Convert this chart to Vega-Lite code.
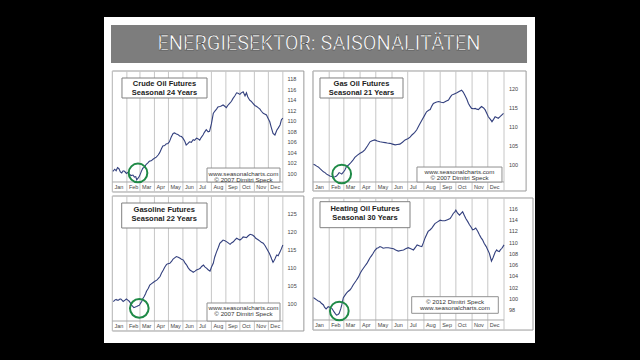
{
"$schema": "https://vega.github.io/schema/vega-lite/v6.json",
"background": "black",
"padding": {"left": 104, "top": 17, "right": 105, "bottom": 17},
"datasets": {
"months": [{"m":"Jan","d":0},{"m":"Feb","d":31},{"m":"Mar","d":59},{"m":"Apr","d":90},{"m":"May","d":120},{"m":"Jun","d":151},{"m":"Jul","d":181},{"m":"Aug","d":212},{"m":"Sep","d":243},{"m":"Oct","d":273},{"m":"Nov","d":304},{"m":"Dec","d":334},{"m":"","d":365}],
"ticks": [{"p":"crude","v":100},{"p":"crude","v":102},{"p":"crude","v":104},{"p":"crude","v":106},{"p":"crude","v":108},{"p":"crude","v":110},{"p":"crude","v":112},{"p":"crude","v":114},{"p":"crude","v":116},{"p":"crude","v":118},
{"p":"gasoil","v":100},{"p":"gasoil","v":105},{"p":"gasoil","v":110},{"p":"gasoil","v":115},{"p":"gasoil","v":120},
{"p":"gasoline","v":100},{"p":"gasoline","v":105},{"p":"gasoline","v":110},{"p":"gasoline","v":115},{"p":"gasoline","v":120},{"p":"gasoline","v":125},
{"p":"heating","v":98},{"p":"heating","v":100},{"p":"heating","v":102},{"p":"heating","v":104},{"p":"heating","v":106},{"p":"heating","v":108},{"p":"heating","v":110},{"p":"heating","v":112},{"p":"heating","v":114},{"p":"heating","v":116}],
"crude": [{"d":1,"v":100.5},{"d":5,"v":100.9},{"d":8,"v":100.6},{"d":11,"v":101.2},{"d":14,"v":101.0},{"d":17,"v":100.4},{"d":20,"v":100.2},{"d":23,"v":100.6},{"d":26,"v":100.5},{"d":30,"v":100.1},{"d":33,"v":100.3},{"d":37,"v":99.9},{"d":40,"v":99.7},{"d":44,"v":99.8},{"d":47,"v":99.4},{"d":50,"v":99.5},{"d":52,"v":98.9},{"d":55,"v":99.2},{"d":58,"v":99.6},{"d":62,"v":100.5},{"d":65,"v":101.1},{"d":69,"v":101.3},{"d":72,"v":101.8},{"d":76,"v":102.1},{"d":79,"v":102.4},{"d":83,"v":102.5},{"d":87,"v":102.8},{"d":90,"v":103.0},{"d":94,"v":103.2},{"d":98,"v":103.6},{"d":101,"v":104.0},{"d":105,"v":104.8},{"d":108,"v":105.3},{"d":112,"v":105.4},{"d":115,"v":105.7},{"d":119,"v":105.8},{"d":122,"v":106.1},{"d":126,"v":107.0},{"d":130,"v":107.7},{"d":133,"v":107.8},{"d":137,"v":107.6},{"d":140,"v":107.5},{"d":144,"v":107.2},{"d":148,"v":107.1},{"d":151,"v":106.8},{"d":155,"v":106.2},{"d":158,"v":105.5},{"d":162,"v":105.8},{"d":165,"v":106.1},{"d":169,"v":106.0},{"d":173,"v":106.5},{"d":176,"v":106.4},{"d":180,"v":106.8},{"d":183,"v":106.7},{"d":187,"v":106.4},{"d":190,"v":106.9},{"d":194,"v":107.4},{"d":197,"v":107.9},{"d":201,"v":108.4},{"d":205,"v":108.0},{"d":208,"v":108.1},{"d":212,"v":109.5},{"d":216,"v":111.5},{"d":219,"v":111.9},{"d":223,"v":112.3},{"d":226,"v":112.7},{"d":230,"v":112.8},{"d":233,"v":112.9},{"d":237,"v":113.1},{"d":240,"v":112.9},{"d":244,"v":112.6},{"d":247,"v":113.0},{"d":251,"v":113.4},{"d":255,"v":113.8},{"d":258,"v":114.3},{"d":262,"v":114.8},{"d":266,"v":115.4},{"d":269,"v":115.3},{"d":273,"v":115.1},{"d":276,"v":115.4},{"d":280,"v":115.6},{"d":284,"v":114.8},{"d":287,"v":115.4},{"d":290,"v":114.6},{"d":294,"v":114.0},{"d":297,"v":113.8},{"d":301,"v":113.4},{"d":305,"v":113.0},{"d":309,"v":112.8},{"d":312,"v":112.6},{"d":316,"v":112.3},{"d":319,"v":111.9},{"d":323,"v":111.5},{"d":326,"v":111.4},{"d":330,"v":111.2},{"d":333,"v":110.6},{"d":337,"v":109.9},{"d":340,"v":108.9},{"d":344,"v":107.7},{"d":348,"v":107.4},{"d":352,"v":108.3},{"d":355,"v":108.7},{"d":359,"v":109.3},{"d":362,"v":110.3},{"d":365,"v":110.6}],
"gasoil": [{"d":1,"v":100.2},{"d":4,"v":100.0},{"d":7,"v":99.7},{"d":10,"v":99.5},{"d":13,"v":99.1},{"d":17,"v":98.6},{"d":20,"v":98.2},{"d":23,"v":98.0},{"d":26,"v":97.6},{"d":29,"v":97.4},{"d":32,"v":97.1},{"d":36,"v":97.0},{"d":39,"v":96.8},{"d":42,"v":96.9},{"d":45,"v":97.1},{"d":48,"v":97.6},{"d":50,"v":98.0},{"d":53,"v":97.8},{"d":55,"v":97.6},{"d":58,"v":98.1},{"d":61,"v":98.7},{"d":64,"v":99.6},{"d":68,"v":100.0},{"d":71,"v":100.4},{"d":76,"v":101.2},{"d":80,"v":102.0},{"d":85,"v":102.6},{"d":90,"v":103.1},{"d":95,"v":103.5},{"d":99,"v":104.0},{"d":104,"v":105.0},{"d":109,"v":106.1},{"d":113,"v":106.4},{"d":118,"v":106.6},{"d":123,"v":106.3},{"d":128,"v":106.1},{"d":133,"v":106.0},{"d":138,"v":105.9},{"d":142,"v":105.8},{"d":147,"v":105.7},{"d":152,"v":105.5},{"d":157,"v":105.3},{"d":161,"v":105.4},{"d":166,"v":105.5},{"d":171,"v":106.0},{"d":176,"v":106.6},{"d":179,"v":106.8},{"d":182,"v":107.0},{"d":186,"v":107.4},{"d":189,"v":107.9},{"d":194,"v":108.5},{"d":198,"v":109.2},{"d":203,"v":110.5},{"d":208,"v":111.8},{"d":213,"v":113.0},{"d":217,"v":114.0},{"d":221,"v":114.4},{"d":224,"v":114.6},{"d":227,"v":115.5},{"d":230,"v":116.2},{"d":235,"v":116.5},{"d":240,"v":116.7},{"d":245,"v":116.5},{"d":249,"v":116.4},{"d":254,"v":116.8},{"d":259,"v":117.1},{"d":262,"v":117.8},{"d":265,"v":118.4},{"d":270,"v":118.7},{"d":275,"v":119.0},{"d":280,"v":119.4},{"d":284,"v":119.7},{"d":287,"v":119.2},{"d":290,"v":118.4},{"d":294,"v":117.3},{"d":297,"v":116.2},{"d":300,"v":115.5},{"d":303,"v":114.9},{"d":307,"v":114.8},{"d":310,"v":114.9},{"d":313,"v":114.7},{"d":316,"v":114.6},{"d":319,"v":115.0},{"d":322,"v":115.4},{"d":326,"v":115.0},{"d":329,"v":114.5},{"d":332,"v":113.6},{"d":335,"v":112.7},{"d":339,"v":112.0},{"d":342,"v":111.4},{"d":345,"v":112.0},{"d":348,"v":112.7},{"d":351,"v":112.5},{"d":354,"v":112.3},{"d":358,"v":112.8},{"d":361,"v":113.2},{"d":364,"v":113.6}],
"gasoline": [{"d":2,"v":100.6},{"d":5,"v":101.0},{"d":8,"v":101.2},{"d":10,"v":101.0},{"d":13,"v":101.0},{"d":16,"v":101.3},{"d":18,"v":101.3},{"d":21,"v":100.9},{"d":23,"v":100.6},{"d":27,"v":101.0},{"d":30,"v":101.3},{"d":33,"v":101.0},{"d":36,"v":100.7},{"d":39,"v":100.1},{"d":41,"v":99.6},{"d":44,"v":99.2},{"d":46,"v":98.9},{"d":49,"v":99.1},{"d":52,"v":99.2},{"d":55,"v":99.4},{"d":58,"v":99.6},{"d":60,"v":100.1},{"d":63,"v":100.7},{"d":65,"v":101.4},{"d":68,"v":102.0},{"d":71,"v":102.8},{"d":73,"v":103.5},{"d":77,"v":104.3},{"d":80,"v":105.2},{"d":84,"v":105.6},{"d":88,"v":106.0},{"d":91,"v":106.3},{"d":95,"v":106.6},{"d":98,"v":107.0},{"d":102,"v":107.6},{"d":105,"v":108.5},{"d":109,"v":109.4},{"d":112,"v":110.2},{"d":116,"v":111.0},{"d":119,"v":111.2},{"d":123,"v":111.3},{"d":127,"v":111.9},{"d":130,"v":112.5},{"d":134,"v":112.9},{"d":137,"v":113.2},{"d":141,"v":113.0},{"d":145,"v":112.7},{"d":148,"v":112.4},{"d":152,"v":112.2},{"d":155,"v":111.5},{"d":159,"v":110.8},{"d":162,"v":110.1},{"d":166,"v":109.4},{"d":170,"v":109.1},{"d":173,"v":108.8},{"d":177,"v":109.1},{"d":180,"v":109.4},{"d":184,"v":109.6},{"d":188,"v":109.9},{"d":191,"v":110.4},{"d":195,"v":110.8},{"d":198,"v":110.3},{"d":202,"v":109.9},{"d":205,"v":109.5},{"d":209,"v":109.1},{"d":212,"v":110.2},{"d":216,"v":111.3},{"d":219,"v":113.0},{"d":223,"v":114.5},{"d":227,"v":115.8},{"d":230,"v":116.9},{"d":234,"v":117.4},{"d":237,"v":117.8},{"d":241,"v":117.6},{"d":245,"v":117.3},{"d":248,"v":117.0},{"d":252,"v":116.6},{"d":255,"v":117.0},{"d":259,"v":117.3},{"d":262,"v":117.8},{"d":266,"v":118.3},{"d":270,"v":118.0},{"d":273,"v":117.8},{"d":277,"v":118.2},{"d":280,"v":118.7},{"d":284,"v":118.6},{"d":287,"v":118.5},{"d":291,"v":119.0},{"d":295,"v":119.4},{"d":298,"v":119.3},{"d":300,"v":119.2},{"d":304,"v":118.8},{"d":307,"v":118.3},{"d":312,"v":117.9},{"d":316,"v":117.5},{"d":319,"v":117.2},{"d":323,"v":116.9},{"d":327,"v":116.2},{"d":330,"v":115.5},{"d":333,"v":114.8},{"d":336,"v":114.1},{"d":339,"v":113.2},{"d":341,"v":112.5},{"d":344,"v":111.6},{"d":346,"v":112.0},{"d":348,"v":112.5},{"d":350,"v":113.1},{"d":352,"v":113.6},{"d":355,"v":113.4},{"d":357,"v":114.0},{"d":359,"v":114.5},{"d":362,"v":115.4},{"d":365,"v":116.4}],
"heating": [{"d":1,"v":100.2},{"d":4,"v":100.0},{"d":7,"v":99.8},{"d":10,"v":99.6},{"d":13,"v":99.5},{"d":16,"v":99.2},{"d":20,"v":98.9},{"d":22,"v":98.5},{"d":25,"v":98.2},{"d":27,"v":98.4},{"d":29,"v":98.6},{"d":32,"v":98.5},{"d":36,"v":98.3},{"d":38,"v":98.0},{"d":40,"v":97.7},{"d":43,"v":97.3},{"d":45,"v":97.1},{"d":48,"v":97.2},{"d":50,"v":97.4},{"d":53,"v":98.2},{"d":55,"v":98.9},{"d":58,"v":100.2},{"d":61,"v":100.6},{"d":64,"v":101.0},{"d":67,"v":101.3},{"d":71,"v":101.6},{"d":74,"v":102.0},{"d":77,"v":102.5},{"d":80,"v":102.9},{"d":83,"v":103.3},{"d":87,"v":103.9},{"d":90,"v":104.5},{"d":93,"v":105.0},{"d":96,"v":105.4},{"d":99,"v":105.8},{"d":103,"v":106.3},{"d":106,"v":106.8},{"d":109,"v":107.3},{"d":112,"v":107.7},{"d":115,"v":108.1},{"d":118,"v":108.6},{"d":122,"v":109.0},{"d":125,"v":109.1},{"d":128,"v":109.3},{"d":131,"v":109.2},{"d":134,"v":109.0},{"d":139,"v":109.1},{"d":144,"v":109.1},{"d":149,"v":109.0},{"d":154,"v":108.9},{"d":158,"v":108.7},{"d":163,"v":108.5},{"d":168,"v":108.6},{"d":173,"v":108.7},{"d":177,"v":108.9},{"d":182,"v":109.1},{"d":187,"v":108.9},{"d":192,"v":108.7},{"d":196,"v":109.2},{"d":199,"v":109.6},{"d":204,"v":109.4},{"d":208,"v":109.3},{"d":211,"v":110.0},{"d":214,"v":110.8},{"d":217,"v":111.4},{"d":220,"v":112.0},{"d":224,"v":112.3},{"d":227,"v":112.6},{"d":230,"v":113.0},{"d":233,"v":113.4},{"d":238,"v":113.7},{"d":243,"v":114.0},{"d":247,"v":113.9},{"d":252,"v":113.9},{"d":257,"v":114.1},{"d":262,"v":114.3},{"d":265,"v":114.7},{"d":268,"v":115.2},{"d":271,"v":115.5},{"d":273,"v":115.8},{"d":276,"v":115.3},{"d":280,"v":114.9},{"d":283,"v":115.2},{"d":286,"v":115.5},{"d":289,"v":114.9},{"d":292,"v":114.3},{"d":296,"v":113.7},{"d":299,"v":113.2},{"d":302,"v":112.8},{"d":305,"v":112.3},{"d":308,"v":112.4},{"d":311,"v":112.6},{"d":315,"v":112.0},{"d":318,"v":111.4},{"d":321,"v":110.9},{"d":324,"v":110.5},{"d":327,"v":109.9},{"d":331,"v":109.3},{"d":334,"v":108.7},{"d":337,"v":108.1},{"d":339,"v":107.4},{"d":341,"v":106.7},{"d":344,"v":107.3},{"d":346,"v":107.8},{"d":348,"v":108.3},{"d":351,"v":108.7},{"d":353,"v":108.5},{"d":356,"v":108.4},{"d":358,"v":108.7},{"d":361,"v":109.0},{"d":363,"v":109.3},{"d":365,"v":109.6}]
},
"spacing": 0,
"vconcat": [
{
"width": 431, "height": 50,
"data": {"values": [{"t": "ENERGIESEKTOR: SAISONALITÄTEN"}]},
"encoding": {
"x": {"field": "t", "type": "nominal", "scale": {"paddingInner": 0, "paddingOuter": 0.018, "align": 0.467}},
"y": {"field": "t", "type": "nominal", "scale": {"paddingInner": 0, "paddingOuter": 0.158, "align": 0.667}}
},
"layer": [
{"mark": {"type": "rect", "fill": "#7d7d7d"}},
{"mark": {"type": "text", "fontSize": 20, "font": "Roboto", "fill": "white", "stroke": "#3a3a3a", "strokeWidth": 0.4, "baseline": "middle"}, "encoding": {"text": {"field": "t"}}}
]
},
{
"hconcat": [
{
"width": 205, "height": 127,
"layer": [
{"data": {"values": [{}]}, "mark": {"type": "rect", "fill": "white", "stroke": "#9a9a9a", "strokeWidth": 1},
"encoding": {"x": {"datum": 0, "type": "quantitative", "scale": {"domain": [-18, 421], "nice": false, "zero": false}}, "x2": {"datum": 410}, "y": {"datum": 119.54, "type": "quantitative", "scale": {"domain": [96.2, 120.3], "nice": false, "zero": false}}, "y2": {"datum": 96.58}}},
{"data": {"name": "months"}, "mark": {"type": "rule", "stroke": "#c6c6c6", "strokeWidth": 1}, "encoding": {"x": {"field": "d", "type": "quantitative"}, "y": {"datum": 119.54}, "y2": {"datum": 96.58}}},
{"data": {"values": [{}]}, "mark": {"type": "rule", "stroke": "#a8a8a8"}, "encoding": {"x": {"datum": 0}, "x2": {"datum": 365}, "y": {"datum": 98.48}}},
{"data": {"name": "months"}, "mark": {"type": "text", "align": "left", "baseline": "middle", "dx": 2, "fontSize": 5.5, "fill": "#444"}, "encoding": {"x": {"field": "d", "type": "quantitative"}, "y": {"datum": 97.53}, "text": {"field": "m"}}},
{"data": {"name": "ticks"}, "transform": [{"filter": "datum.p == 'crude'"}], "mark": {"type": "text", "align": "left", "baseline": "middle", "fontSize": 5.5, "fill": "#444"}, "encoding": {"x": {"datum": 375}, "y": {"field": "v", "type": "quantitative"}, "text": {"field": "v", "type": "quantitative", "format": "d"}}},
{"data": {"name": "crude"}, "mark": {"type": "line", "stroke": "#33407e", "strokeWidth": 1.1}, "encoding": {"x": {"field": "d", "type": "quantitative"}, "y": {"field": "v", "type": "quantitative"}}},
{"data": {"values": [{}]}, "mark": {"type": "rect", "fill": "white", "stroke": "#808080", "strokeWidth": 1}, "encoding": {"x": {"datum": 20.5}, "x2": {"datum": 202.6}, "y": {"datum": 118.21}, "y2": {"datum": 114.42}}},
{"data": {"values": [{}]}, "mark": {"type": "text", "fontSize": 7.5, "fontWeight": "bold", "lineHeight": 9, "baseline": "middle", "fill": "#222"}, "encoding": {"x": {"datum": 111.5}, "y": {"datum": 116.98}, "text": {"value": ["Crude Oil Futures", "Seasonal 24 Years"]}}},
{"data": {"values": [{}]}, "mark": {"type": "rect", "fill": "white", "stroke": "#909090", "strokeWidth": 1}, "encoding": {"x": {"datum": 202.6}, "x2": {"datum": 358.9}, "y": {"datum": 101.13}, "y2": {"datum": 98.48}}},
{"data": {"values": [{}]}, "mark": {"type": "text", "fontSize": 6.2, "lineHeight": 6.3, "baseline": "middle", "fill": "#333"}, "encoding": {"x": {"datum": 280.7}, "y": {"datum": 100.05}, "text": {"value": ["www.seasonalcharts.com", "© 2007   Dimitri Speck"]}}},
{"data": {"values": [{}]}, "mark": {"type": "point", "shape": "circle", "filled": false, "stroke": "#1f8a47", "strokeWidth": 2, "size": 350, "opacity": 1}, "encoding": {"x": {"datum": 54.8}, "y": {"datum": 100.19}}}
]
},
{
"width": 226, "height": 127,
"layer": [
{"data": {"values": [{}]}, "mark": {"type": "rect", "fill": "white", "stroke": "#9a9a9a", "strokeWidth": 1},
"encoding": {"x": {"datum": 0, "type": "quantitative", "scale": {"domain": [-7.6, 424.2], "nice": false, "zero": false}}, "x2": {"datum": 407.2}, "y": {"datum": 124.74, "type": "quantitative", "scale": {"domain": [92.37, 125.79], "nice": false, "zero": false}}, "y2": {"datum": 93.16}}},
{"data": {"name": "months"}, "mark": {"type": "rule", "stroke": "#c6c6c6", "strokeWidth": 1}, "encoding": {"x": {"field": "d", "type": "quantitative"}, "y": {"datum": 124.74}, "y2": {"datum": 93.16}}},
{"data": {"values": [{}]}, "mark": {"type": "rule", "stroke": "#a8a8a8"}, "encoding": {"x": {"datum": 0}, "x2": {"datum": 365}, "y": {"datum": 95.53}}},
{"data": {"name": "months"}, "mark": {"type": "text", "align": "left", "baseline": "middle", "dx": 2, "fontSize": 5.5, "fill": "#444"}, "encoding": {"x": {"field": "d", "type": "quantitative"}, "y": {"datum": 94.21}, "text": {"field": "m"}}},
{"data": {"name": "ticks"}, "transform": [{"filter": "datum.p == 'gasoil'"}], "mark": {"type": "text", "align": "left", "baseline": "middle", "fontSize": 5.5, "fill": "#444"}, "encoding": {"x": {"datum": 374.5}, "y": {"field": "v", "type": "quantitative"}, "text": {"field": "v", "type": "quantitative", "format": "d"}}},
{"data": {"name": "gasoil"}, "mark": {"type": "line", "stroke": "#33407e", "strokeWidth": 1.1}, "encoding": {"x": {"field": "d", "type": "quantitative"}, "y": {"field": "v", "type": "quantitative"}}},
{"data": {"values": [{}]}, "mark": {"type": "rect", "fill": "white", "stroke": "#808080", "strokeWidth": 1}, "encoding": {"x": {"datum": 13.4}, "x2": {"datum": 172}, "y": {"datum": 122.9}, "y2": {"datum": 117.63}}},
{"data": {"values": [{}]}, "mark": {"type": "text", "fontSize": 7.5, "fontWeight": "bold", "lineHeight": 9, "baseline": "middle", "fill": "#222"}, "encoding": {"x": {"datum": 92.7}, "y": {"datum": 121.19}, "text": {"value": ["Gas Oil Futures", "Seasonal 21 Years"]}}},
{"data": {"values": [{}]}, "mark": {"type": "rect", "fill": "white", "stroke": "#909090", "strokeWidth": 1}, "encoding": {"x": {"datum": 198.7}, "x2": {"datum": 361.1}, "y": {"datum": 99.47}, "y2": {"datum": 95.53}}},
{"data": {"values": [{}]}, "mark": {"type": "text", "fontSize": 6.2, "lineHeight": 6.3, "baseline": "middle", "fill": "#333"}, "encoding": {"x": {"datum": 280}, "y": {"datum": 98.15}, "text": {"value": ["www.seasonalcharts.com", "© 2007   Dimitri Speck"]}}},
{"data": {"values": [{}]}, "mark": {"type": "point", "shape": "circle", "filled": false, "stroke": "#1f8a47", "strokeWidth": 2, "size": 350, "opacity": 1}, "encoding": {"x": {"datum": 54.9}, "y": {"datum": 97.63}}}
]
}
],
"spacing": 0,
"bounds": "flush"
},
{
"hconcat": [
{
"width": 205, "height": 149,
"layer": [
{"data": {"values": [{}]}, "mark": {"type": "rect", "fill": "white", "stroke": "#9a9a9a", "strokeWidth": 1},
"encoding": {"x": {"datum": 0, "type": "quantitative", "scale": {"domain": [-18, 421], "nice": false, "zero": false}}, "x2": {"datum": 410}, "y": {"datum": 130.12, "type": "quantitative", "scale": {"domain": [89.01, 130.68], "nice": false, "zero": false}}, "y2": {"datum": 92.37}}},
{"data": {"name": "months"}, "mark": {"type": "rule", "stroke": "#c6c6c6", "strokeWidth": 1}, "encoding": {"x": {"field": "d", "type": "quantitative"}, "y": {"datum": 130.12}, "y2": {"datum": 92.37}}},
{"data": {"values": [{}]}, "mark": {"type": "rule", "stroke": "#a8a8a8"}, "encoding": {"x": {"datum": 0}, "x2": {"datum": 365}, "y": {"datum": 95.16}}},
{"data": {"name": "months"}, "mark": {"type": "text", "align": "left", "baseline": "middle", "dx": 2, "fontSize": 5.5, "fill": "#444"}, "encoding": {"x": {"field": "d", "type": "quantitative"}, "y": {"datum": 93.76}, "text": {"field": "m"}}},
{"data": {"name": "ticks"}, "transform": [{"filter": "datum.p == 'gasoline'"}], "mark": {"type": "text", "align": "left", "baseline": "middle", "fontSize": 5.5, "fill": "#444"}, "encoding": {"x": {"datum": 375}, "y": {"field": "v", "type": "quantitative"}, "text": {"field": "v", "type": "quantitative", "format": "d"}}},
{"data": {"name": "gasoline"}, "mark": {"type": "line", "stroke": "#33407e", "strokeWidth": 1.1}, "encoding": {"x": {"field": "d", "type": "quantitative"}, "y": {"field": "v", "type": "quantitative"}}},
{"data": {"values": [{}]}, "mark": {"type": "rect", "fill": "white", "stroke": "#808080", "strokeWidth": 1}, "encoding": {"x": {"datum": 19.9}, "x2": {"datum": 202.6}, "y": {"datum": 128.16}, "y2": {"datum": 121.17}}},
{"data": {"values": [{}]}, "mark": {"type": "text", "fontSize": 7.5, "fontWeight": "bold", "lineHeight": 9.5, "baseline": "middle", "fill": "#222"}, "encoding": {"x": {"datum": 111}, "y": {"datum": 126.21}, "text": {"value": ["Gasoline Futures", "Seasonal 22 Years"]}}},
{"data": {"values": [{}]}, "mark": {"type": "rect", "fill": "white", "stroke": "#909090", "strokeWidth": 1}, "encoding": {"x": {"datum": 202.6}, "x2": {"datum": 358.9}, "y": {"datum": 100.2}, "y2": {"datum": 95.16}}},
{"data": {"values": [{}]}, "mark": {"type": "text", "fontSize": 6.2, "lineHeight": 6.5, "baseline": "middle", "fill": "#333"}, "encoding": {"x": {"datum": 280.7}, "y": {"datum": 98.8}, "text": {"value": ["www.seasonalcharts.com", "© 2007   Dimitri Speck"]}}},
{"data": {"values": [{}]}, "mark": {"type": "point", "shape": "circle", "filled": false, "stroke": "#1f8a47", "strokeWidth": 2, "size": 350, "opacity": 1}, "encoding": {"x": {"datum": 57.6}, "y": {"datum": 98.7}}}
]
},
{
"width": 226, "height": 149,
"layer": [
{"data": {"values": [{}]}, "mark": {"type": "rect", "fill": "white", "stroke": "#9a9a9a", "strokeWidth": 1},
"encoding": {"x": {"datum": 0, "type": "quantitative", "scale": {"domain": [-7.6, 424.2], "nice": false, "zero": false}}, "x2": {"datum": 420.4}, "y": {"datum": 117.96, "type": "quantitative", "scale": {"domain": [92.12, 118.67], "nice": false, "zero": false}}, "y2": {"datum": 94.43}}},
{"data": {"name": "months"}, "mark": {"type": "rule", "stroke": "#c6c6c6", "strokeWidth": 1}, "encoding": {"x": {"field": "d", "type": "quantitative"}, "y": {"datum": 117.96}, "y2": {"datum": 94.43}}},
{"data": {"values": [{}]}, "mark": {"type": "rule", "stroke": "#a8a8a8"}, "encoding": {"x": {"datum": 0}, "x2": {"datum": 365}, "y": {"datum": 96.22}}},
{"data": {"name": "months"}, "mark": {"type": "text", "align": "left", "baseline": "middle", "dx": 2, "fontSize": 5.5, "fill": "#444"}, "encoding": {"x": {"field": "d", "type": "quantitative"}, "y": {"datum": 95.33}, "text": {"field": "m"}}},
{"data": {"name": "ticks"}, "transform": [{"filter": "datum.p == 'heating'"}], "mark": {"type": "text", "align": "left", "baseline": "middle", "fontSize": 5.5, "fill": "#444"}, "encoding": {"x": {"datum": 374.5}, "y": {"field": "v", "type": "quantitative"}, "text": {"field": "v", "type": "quantitative", "format": "d"}}},
{"data": {"name": "heating"}, "mark": {"type": "line", "stroke": "#33407e", "strokeWidth": 1.1}, "encoding": {"x": {"field": "d", "type": "quantitative"}, "y": {"field": "v", "type": "quantitative"}}},
{"data": {"values": [{}]}, "mark": {"type": "rect", "fill": "white", "stroke": "#808080", "strokeWidth": 1}, "encoding": {"x": {"datum": 13.4}, "x2": {"datum": 185.4}, "y": {"datum": 117.3}, "y2": {"datum": 112.67}}},
{"data": {"values": [{}]}, "mark": {"type": "text", "fontSize": 7.5, "fontWeight": "bold", "lineHeight": 9.5, "baseline": "middle", "fill": "#222"}, "encoding": {"x": {"datum": 99.4}, "y": {"datum": 116.0}, "text": {"value": ["Heating Oil Futures", "Seasonal 30 Years"]}}},
{"data": {"values": [{}]}, "mark": {"type": "rect", "fill": "white", "stroke": "#909090", "strokeWidth": 1}, "encoding": {"x": {"datum": 188.6}, "x2": {"datum": 354.1}, "y": {"datum": 100.37}, "y2": {"datum": 97.41}}},
{"data": {"values": [{}]}, "mark": {"type": "text", "fontSize": 6.2, "lineHeight": 6.3, "baseline": "middle", "fill": "#333"}, "encoding": {"x": {"datum": 271.4}, "y": {"datum": 99.48}, "text": {"value": ["© 2012   Dimitri Speck", "www.seasonalcharts.com"]}}},
{"data": {"values": [{}]}, "mark": {"type": "point", "shape": "circle", "filled": false, "stroke": "#1f8a47", "strokeWidth": 2, "size": 350, "opacity": 1}, "encoding": {"x": {"datum": 50.3}, "y": {"datum": 97.82}}}
]
}
],
"spacing": 0,
"bounds": "flush"
}
],
"config": {
"axis": {"disable": true},
"view": {"stroke": null, "fill": "white"},
"text": {"font": "Liberation Sans"}
}
}
